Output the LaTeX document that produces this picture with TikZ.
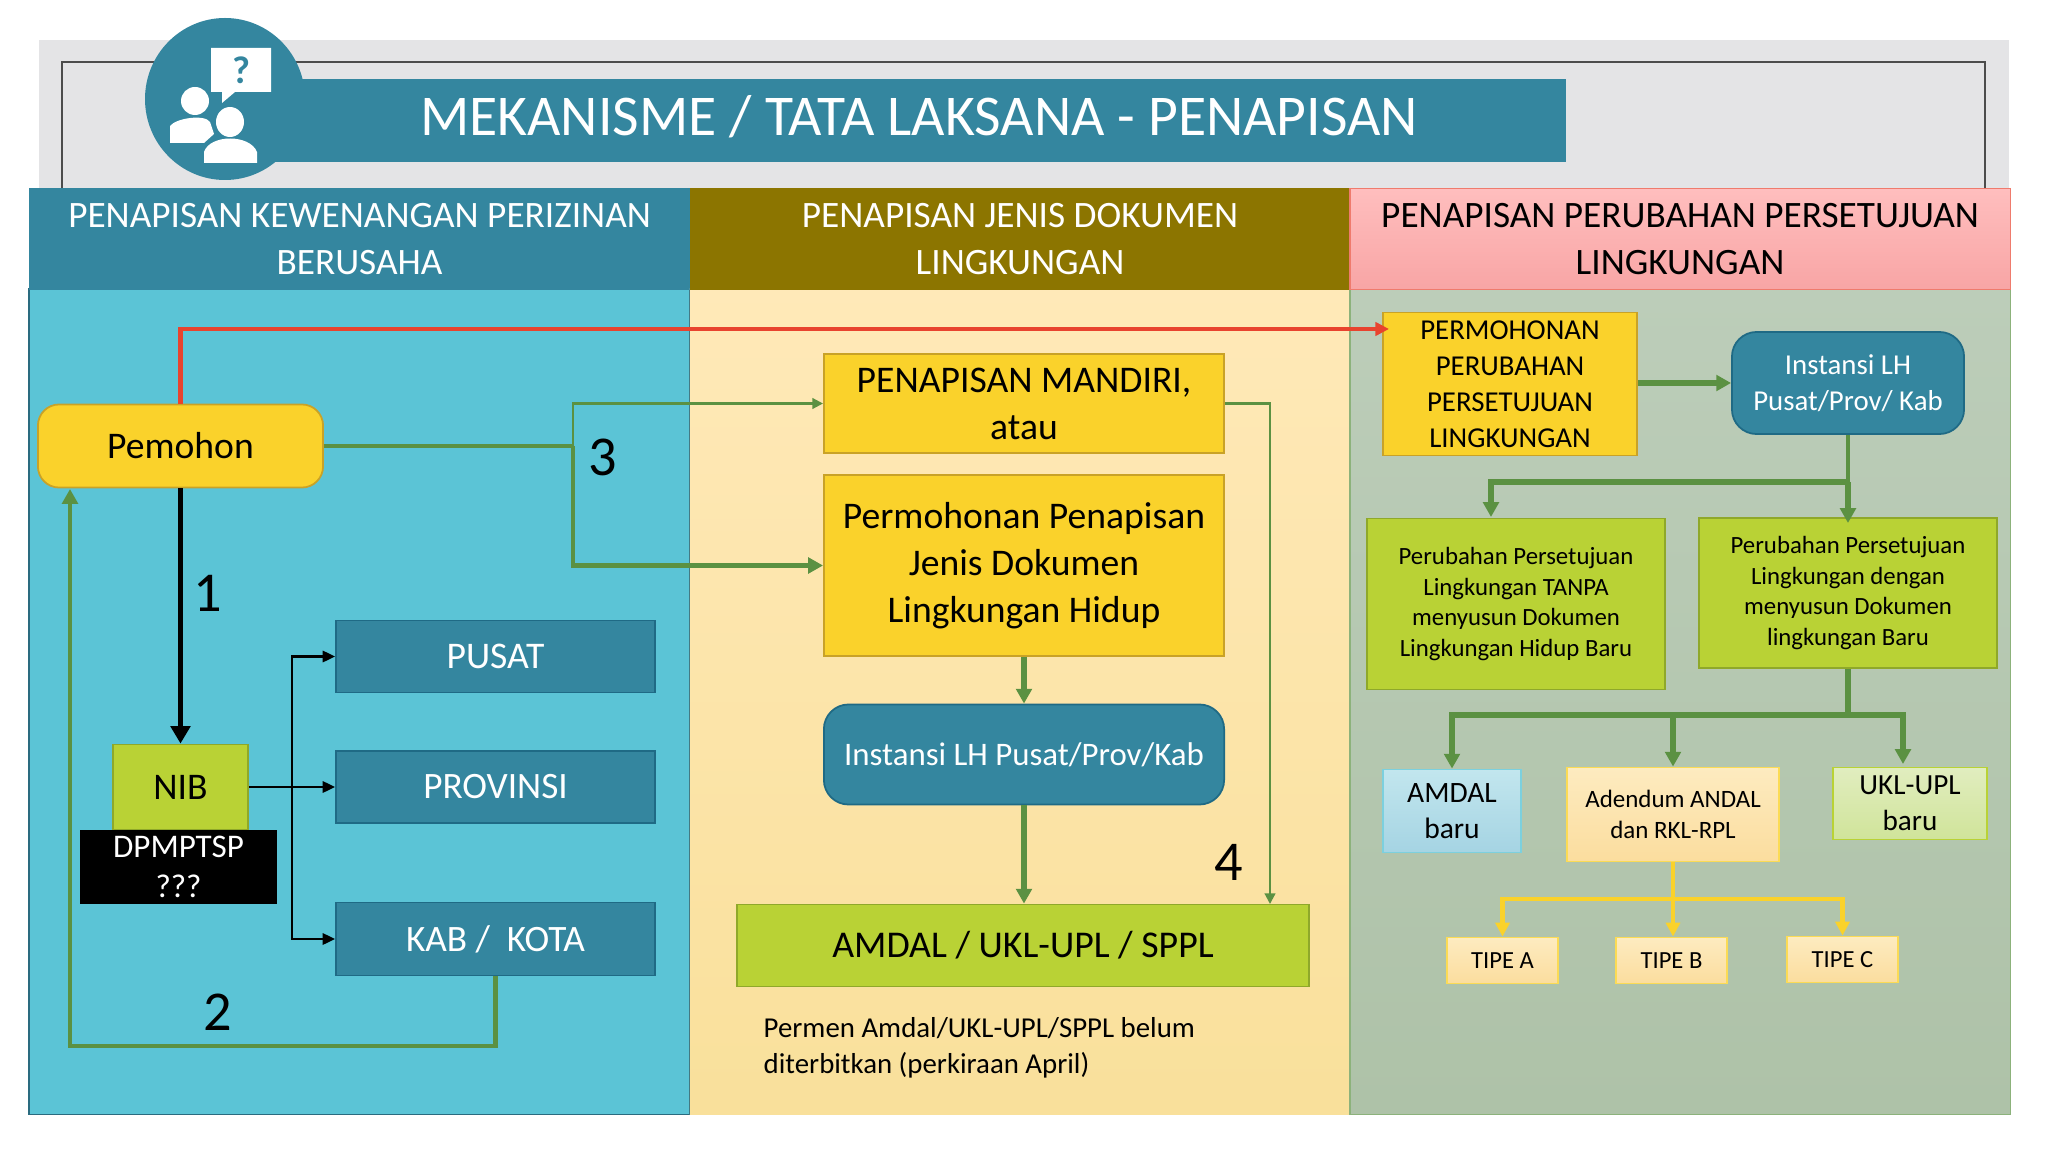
\documentclass[tikz,border=0pt]{standalone}
\usepackage{fontspec}
\setmainfont{Carlito}
\usetikzlibrary{arrows.meta,shadings}
\definecolor{tealbar}{HTML}{34869F}
\definecolor{tealedge}{HTML}{1F6A85}
\definecolor{skypanel}{HTML}{5BC4D6}
\definecolor{olivehead}{HTML}{8C7500}
\definecolor{goldbox}{HTML}{FAD22B}
\definecolor{goldedge}{HTML}{C9A227}
\definecolor{limebox}{HTML}{B9D235}
\definecolor{limeedge}{HTML}{8FA82A}
\definecolor{greenline}{HTML}{5B9142}
\definecolor{redline}{HTML}{E8432E}
\definecolor{grayback}{HTML}{E4E4E6}
\definecolor{creamtop}{HTML}{FFE9B8}
\definecolor{creambot}{HTML}{F9E09B}
\definecolor{sagetop}{HTML}{BCCDB9}
\definecolor{sagebot}{HTML}{AEC2A8}
\definecolor{pinktop}{HTML}{FFBEBE}
\definecolor{pinkbot}{HTML}{F8A5A5}
\definecolor{tipetop}{HTML}{FDEBC0}
\definecolor{tipebot}{HTML}{FBDD9E}
\definecolor{icetop}{HTML}{C2E6EE}
\definecolor{icebot}{HTML}{A5D4E3}
\definecolor{mosstop}{HTML}{E1EDBF}
\definecolor{mossbot}{HTML}{D0E49A}
\newcommand{\fsize}[2]{\fontsize{#1}{#2}\selectfont}
\tikzset{
    panelhead/.style={inner sep=0pt, align=center, text=white, font=\fsize{10.6}{13.4}},
    tealbox/.style={draw=tealedge, line width=0.5pt, fill=tealbar, inner sep=0pt, align=center, text=white},
    goldnode/.style={draw=goldedge, line width=0.5pt, fill=goldbox, inner sep=0pt, align=center},
    limenode/.style={draw=limeedge, line width=0.5pt, fill=limebox, inner sep=0pt, align=center},
    tipebox/.style={draw=goldbox!80!white, line width=0.5pt, top color=tipetop, bottom color=tipebot, inner sep=0pt, font=\fsize{7}{9}},
    numlabel/.style={inner sep=0pt, font=\fsize{16}{16}},
    thickgreen/.style={draw=greenline, line width=1.5pt, -{Triangle[length=4.2pt,width=4.4pt]}},
    thingreen/.style={draw=greenline, line width=0.6pt, -{Triangle[length=3pt,width=3pt]}},
    goldarrow/.style={draw=goldbox, line width=1.3pt, -{Triangle[length=4pt,width=4pt]}},
    blackarrow/.style={draw=black, line width=0.7pt, -{Triangle[length=3.5pt,width=3.2pt]}}
}
\begin{document}
\begin{tikzpicture}[x=0.01cm, y=-0.01cm]
    \useasboundingbox (0,0) rectangle (2048,1152);

    % Fondo gris y marco fino
    \fill[grayback] (39,40) rectangle (2009,200);
    \draw[black!70, line width=0.4pt] (62,200) -- (62,62) -- (1985,62) -- (1985,200);

    % Barra del titulo
    \fill[tealbar] (225,79) rectangle (1566,162);
    \fill[tealbar] (225,99) circle (80 and 81);
    \node[inner sep=0pt, text=white, font=\fsize{16.4}{20}] (titulo) at (919,117) {MEKANISME / TATA LAKSANA - PENAPISAN};

    % Icono de las dos personas
    \fill[white] (211,48) -- (271,48) -- (271,92) -- (235,92) -- (222,103) -- (222,92) -- (211,92) -- cycle;
    \node[inner sep=0pt, text=tealbar, font=\fsize{11}{11}\bfseries] (pregunta) at (241,70) {?};
    \fill[white] (195,101) ellipse (14 and 14);
    \fill[white] (170,143) -- (170,126) .. controls (176,118) and (205,114) .. (210,122) -- (214,134) -- (204,143) -- cycle;
    \fill[white] (230,122) ellipse (14 and 15);
    \fill[white] (204,163) -- (204,152) .. controls (210,134) and (250,134) .. (257,152) -- (257,163) -- cycle;

    % Panel izquierdo
    \node[draw=tealbar!80!black, line width=0.4pt, fill=skypanel, minimum width=6.61cm, minimum height=8.25cm, inner sep=0pt] (panela) at (359.5,701.5) {};
    \node[fill=tealbar, minimum width=6.61cm, minimum height=1.02cm, panelhead] (heada) at (359.5,239) {PENAPISAN KEWENANGAN PERIZINAN\\BERUSAHA};

    % Panel central
    \node[top color=creamtop, bottom color=creambot, minimum width=6.60cm, minimum height=8.25cm, inner sep=0pt] (panelb) at (1020,701.5) {};
    \node[fill=olivehead, minimum width=6.60cm, minimum height=1.02cm, panelhead] (headb) at (1020,239) {PENAPISAN JENIS DOKUMEN\\LINGKUNGAN};

    % Panel derecho
    \node[draw=greenline!70, line width=0.4pt, top color=sagetop, bottom color=sagebot, minimum width=6.60cm, minimum height=8.25cm, inner sep=0pt] (panelc) at (1680,701.5) {};
    \node[draw=redline!70, line width=0.4pt, top color=pinktop, bottom color=pinkbot, minimum width=6.60cm, minimum height=1.01cm, panelhead, text=black] (headc) at (1680,239) {PENAPISAN PERUBAHAN PERSETUJUAN\\LINGKUNGAN};

    % Cajas del panel izquierdo
    \node[goldnode, rounded corners=6pt, minimum width=2.85cm, minimum height=0.83cm, font=\fsize{10.7}{12}] (pemohon) at (180.5,446) {Pemohon};
    \node[limenode, minimum width=1.35cm, minimum height=0.85cm, font=\fsize{10.7}{12}] (nib) at (180.5,787) {NIB};
    \node[fill=black, text=white, align=center, inner sep=0pt, minimum width=1.97cm, minimum height=0.74cm, font=\fsize{9.4}{11.4}] (dpmptsp) at (178.5,867) {DPMPTSP\\???};
    \node[tealbox, minimum width=3.19cm, minimum height=0.72cm, font=\fsize{10.7}{12}] (pusat) at (495.5,656.5) {PUSAT};
    \node[tealbox, minimum width=3.19cm, minimum height=0.72cm, font=\fsize{10.6}{12}] (provinsi) at (495.5,787) {PROVINSI};
    \node[tealbox, minimum width=3.19cm, minimum height=0.73cm, font=\fsize{10.6}{12}] (kabkota) at (495.5,939) {KAB /\ \ KOTA};

    % Cajas del panel central
    \node[goldnode, minimum width=4cm, minimum height=0.99cm, font=\fsize{10.7}{13.4}] (mandiri) at (1024,403.5) {PENAPISAN MANDIRI,\\atau};
    \node[goldnode, minimum width=4cm, minimum height=1.81cm, font=\fsize{10.7}{13.4}] (permohonan) at (1024,565.5) {Permohonan Penapisan\\Jenis Dokumen\\Lingkungan Hidup};
    \node[tealbox, rounded corners=7pt, minimum width=4cm, minimum height=1cm, font=\fsize{9.35}{12}] (instansi) at (1024,754.5) {Instansi LH Pusat/Prov/Kab};
    \node[limenode, minimum width=5.72cm, minimum height=0.82cm, font=\fsize{10.75}{12}] (dokumen) at (1023,945.5) {AMDAL / UKL-UPL / SPPL};
    \node[inner sep=0pt, align=left, anchor=west, font=\fsize{8.2}{10.4}] (permen) at (763,1048) {Permen Amdal/UKL-UPL/SPPL belum\\diterbitkan (perkiraan April)};

    % Cajas del panel derecho
    \node[goldnode, minimum width=2.54cm, minimum height=1.43cm, font=\fsize{8.2}{10.2}] (perubahan) at (1510,384) {PERMOHONAN\\PERUBAHAN\\PERSETUJUAN\\LINGKUNGAN};
    \node[tealbox, rounded corners=7pt, minimum width=2.32cm, minimum height=1.02cm, font=\fsize{8.2}{10.2}] (instansilh) at (1848,383) {Instansi LH\\Pusat/Prov/ Kab};
    \node[limenode, minimum width=2.98cm, minimum height=1.71cm, font=\fsize{7.05}{8.7}] (tanpa) at (1516,604) {Perubahan Persetujuan\\Lingkungan TANPA\\menyusun Dokumen\\Lingkungan Hidup Baru};
    \node[limenode, minimum width=2.98cm, minimum height=1.50cm, font=\fsize{7.05}{8.7}] (dengan) at (1848,593) {Perubahan Persetujuan\\Lingkungan dengan\\menyusun Dokumen\\lingkungan Baru};
    \node[draw=skypanel!80, line width=0.5pt, top color=icetop, bottom color=icebot, align=center, inner sep=0pt, minimum width=1.38cm, minimum height=0.83cm, font=\fsize{8.4}{10.2}] (amdalbaru) at (1452,811) {AMDAL\\baru};
    \node[tipebox, align=center, minimum width=2.12cm, minimum height=0.94cm, font=\fsize{7.1}{8.7}] (adendum) at (1673,814.5) {Adendum ANDAL\\dan RKL-RPL};
    \node[draw=limebox, line width=0.5pt, top color=mosstop, bottom color=mossbot, align=center, inner sep=0pt, minimum width=1.54cm, minimum height=0.72cm, font=\fsize{8.3}{10.2}] (uklbaru) at (1910,803.5) {UKL-UPL\\baru};
    \node[tipebox, minimum width=1.11cm, minimum height=0.46cm] (tipea) at (1502.5,960.5) {TIPE A};
    \node[tipebox, minimum width=1.11cm, minimum height=0.46cm] (tipeb) at (1671.5,960.5) {TIPE B};
    \node[tipebox, minimum width=1.11cm, minimum height=0.46cm] (tipec) at (1842.5,959.5) {TIPE C};

    % Numeros de los pasos
    \node[numlabel] (uno) at (208,593) {1};
    \node[numlabel] (dos) at (218,1012) {2};
    \node[numlabel] (tres) at (603,457) {3};
    \node[numlabel] (cuatro) at (1229,862) {4};

    % Puntos de paso de las lineas
    \coordinate (redend) at (1389,329);
    \coordinate (split3) at (573,446);
    \coordinate (nibsplit) at (292,787);
    \coordinate (backcorner) at (70,1046);
    \coordinate (backend) at (70,489);
    \coordinate (dokin) at (1270,904);
    \coordinate (treea) at (1848,482);
    \coordinate (tanpain) at (1491,517);
    \coordinate (dengantip) at (1848,523);
    \coordinate (treeb) at (1848,715);
    \coordinate (uklin) at (1903,764);
    \coordinate (tipeup) at (1673,899);

    % Lineas del panel izquierdo
    \draw[black, line width=1.7pt, -{Triangle[length=5pt,width=5.5pt]}] (pemohon.south) -- (nib.north);
    \draw[black, line width=0.7pt] (nib.east) -- (nibsplit);
    \draw[blackarrow] (nibsplit) -- (provinsi.west);
    \draw[blackarrow] (nibsplit) |- (pusat.west);
    \draw[blackarrow] (nibsplit) |- (kabkota.west);
    \draw[thickgreen, line width=1.4pt] (kabkota.south) |- (backcorner) -- (backend);

    % Lineas hacia el panel central
    \draw[draw=greenline, line width=1.3pt] (pemohon.east) -- (split3);
    \draw[thingreen] (split3) |- (mandiri.west);
    \draw[thickgreen, line width=1.2pt] (split3) |- (permohonan.west);
    \draw[thickgreen] (permohonan.south) -- (instansi.north);
    \draw[thickgreen] (instansi.south) -- (dokumen.north -| instansi.south);
    \draw[thingreen] (mandiri.east) -| (dokin);

    % Lineas del panel derecho
    \draw[thickgreen] (perubahan.east |- instansilh.west) -- (instansilh.west);
    \draw[draw=greenline, line width=1.4pt] (instansilh.south) -- (treea);
    \draw[thickgreen] (treea) -- (dengantip);
    \draw[thickgreen] (treea) -| (tanpain);
    \draw[draw=greenline, line width=1.5pt] (dengan.south) -- (treeb);
    \draw[thickgreen] (treeb) -| (amdalbaru.north);
    \draw[thickgreen] (adendum.north |- treeb) -- (adendum.north);
    \draw[thickgreen] (treeb) -| (uklin);
    \draw[draw=goldbox, line width=1.3pt] (adendum.south) -- (tipeup);
    \draw[goldarrow] (tipeup) -| (tipea.north);
    \draw[goldarrow] (tipeup) -- (tipeb.north -| tipeup);
    \draw[goldarrow] (tipeup) -| (tipec.north);

    % Linea roja al panel derecho
    \draw[draw=redline, line width=1.3pt, -{Triangle[length=3.9pt,width=3.8pt]}] (pemohon.north) |- (redend);
\end{tikzpicture}
\end{document}
